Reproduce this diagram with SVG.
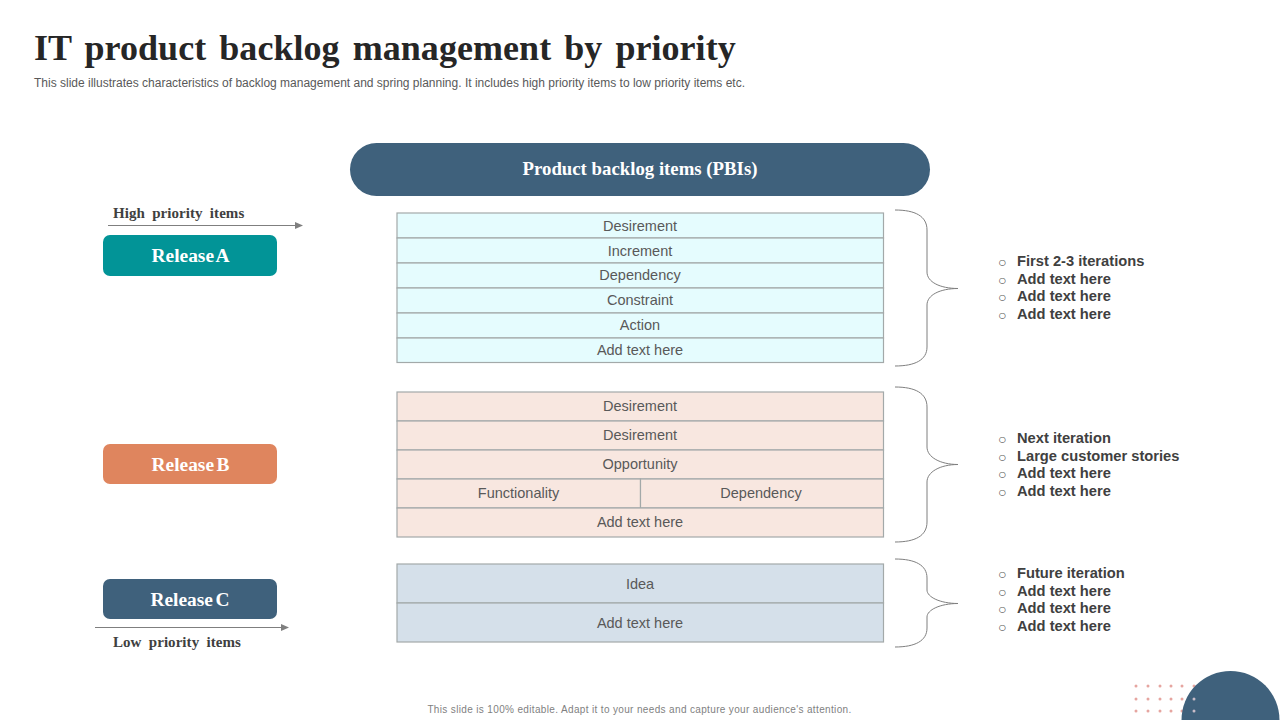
<svg xmlns="http://www.w3.org/2000/svg" width="1280" height="720" viewBox="0 0 1280 720">
<style>
text{font-family:"Liberation Sans",Arial,sans-serif}
.serif{font-family:"Liberation Serif","Times New Roman",serif;font-weight:700}
.title{font-size:36px;fill:#262626;word-spacing:4px;letter-spacing:.05px}
.sub{font-size:12px;fill:#595959}
.pri{font-size:15px;fill:#404040;word-spacing:3.500px;letter-spacing:.05px}
.rel{font-size:19.400px;fill:#fff;text-anchor:middle;word-spacing:-2.300px}
.cell{font-size:14.500px;fill:#595959;text-anchor:middle}
.bul{font-size:14.700px;font-weight:700;fill:#404040}
.dot{font-size:14px;fill:#595959}
.r{stroke:#a3a9a9;stroke-width:1.200}
.a{fill:#e5fcfe}.b{fill:#f8e7e0}.c{fill:#d5e0ea}
.br{fill:none;stroke:#7f7f7f;stroke-width:1}
.ar{stroke:#7f7f7f;stroke-width:1.200;fill:none;marker-end:url(#h)}
.d{fill:#e6a5a0}
</style>
<defs>
<marker id="h" markerWidth="8" markerHeight="8" refX="7" refY="3.500" orient="auto" markerUnits="userSpaceOnUse"><path d="M0 0L8 3.500L0 7z" fill="#7f7f7f"/></marker>
</defs>
<rect width="1280" height="720" fill="#fff"/>
<text class="serif title" x="34" y="60">IT product backlog management by priority</text>
<text class="sub" x="34" y="87">This slide illustrates characteristics of backlog management and spring planning. It includes high priority items to low priority items etc.</text>

<g id="header"><rect x="350" y="143" width="580" height="53" rx="26.500" fill="#3f617c"/>
<text class="serif" x="640" y="175" font-size="18.800" fill="#fff" text-anchor="middle">Product backlog items (PBIs)</text></g>

<g id="release-a"><rect x="103" y="235" width="174" height="41" rx="7" fill="#029497"/><text class="serif rel" x="190.500" y="262">Release A</text></g>
<g id="release-b"><rect x="103" y="444" width="174" height="40" rx="7" fill="#df855e"/><text class="serif rel" x="190.500" y="471">Release B</text></g>
<g id="release-c"><rect x="103" y="579" width="174" height="40" rx="7" fill="#3f617c"/><text class="serif rel" x="190" y="606">Release C</text></g>

<g id="priority-labels">
<text class="serif pri" x="113" y="218">High priority items</text>
<text class="serif pri" x="113" y="647">Low priority items</text>
</g>

<g id="connectors">
<path class="ar" d="M108 225.500H302"/>
<path class="ar" d="M95 627.500H288"/>
<path class="br" d="M895 210C915 210 927 216 927 230V272C927 282 940 288.500 958 288.500C940 288.500 927 295 927 305V347C927 360 915 366 895 366"/>
<path class="br" d="M895 387C915 387 927 393 927 407V447C927 457 940 464.500 958 464.500C940 464.500 927 472 927 482V522C927 536 915 542 895 542"/>
<path class="br" d="M895 559C915 559 927 565 927 578V590C927 597 940 603.500 958 603.500C940 603.500 927 610 927 617V628C927 641 915 647 895 647"/>
</g>

<g id="table-a">
<rect class="a r" x="397" y="213" width="486.500" height="25"/><rect class="a r" x="397" y="238" width="486.500" height="25"/><rect class="a r" x="397" y="263" width="486.500" height="25"/><rect class="a r" x="397" y="288" width="486.500" height="25"/><rect class="a r" x="397" y="313" width="486.500" height="25"/><rect class="a r" x="397" y="338" width="486.500" height="24.500"/>
<text class="cell" x="640" y="231">Desirement</text><text class="cell" x="640" y="256">Increment</text><text class="cell" x="640" y="280">Dependency</text><text class="cell" x="640" y="305">Constraint</text><text class="cell" x="640" y="330">Action</text><text class="cell" x="640" y="355">Add text here</text>
</g>

<g id="table-b">
<rect class="b r" x="397" y="392" width="486.500" height="29"/><rect class="b r" x="397" y="421" width="486.500" height="29"/><rect class="b r" x="397" y="450" width="486.500" height="29"/><rect class="b r" x="397" y="479" width="243.500" height="29"/><rect class="b r" x="640.500" y="479" width="243" height="29"/><rect class="b r" x="397" y="508" width="486.500" height="29"/>
<text class="cell" x="640" y="411">Desirement</text><text class="cell" x="640" y="440">Desirement</text><text class="cell" x="640" y="469">Opportunity</text><text class="cell" x="518.500" y="498">Functionality</text><text class="cell" x="761" y="498">Dependency</text><text class="cell" x="640" y="527">Add text here</text>
</g>

<g id="table-c">
<rect class="c r" x="397" y="564" width="486.500" height="39"/><rect class="c r" x="397" y="603" width="486.500" height="39"/>
<text class="cell" x="640" y="589">Idea</text><text class="cell" x="640" y="628">Add text here</text>
</g>

<g id="list-a">
<text class="dot" x="998" y="267">○</text><text class="dot" x="998" y="285">○</text><text class="dot" x="998" y="302">○</text><text class="dot" x="998" y="320">○</text>
<text class="bul" x="1017" y="266">First 2-3 iterations</text><text class="bul" x="1017" y="284">Add text here</text><text class="bul" x="1017" y="301">Add text here</text><text class="bul" x="1017" y="319">Add text here</text>
</g>
<g id="list-b">
<text class="dot" x="998" y="444">○</text><text class="dot" x="998" y="462">○</text><text class="dot" x="998" y="479">○</text><text class="dot" x="998" y="497">○</text>
<text class="bul" x="1017" y="443">Next iteration</text><text class="bul" x="1017" y="461">Large customer stories</text><text class="bul" x="1017" y="478">Add text here</text><text class="bul" x="1017" y="496">Add text here</text>
</g>
<g id="list-c">
<text class="dot" x="998" y="579">○</text><text class="dot" x="998" y="597">○</text><text class="dot" x="998" y="614">○</text><text class="dot" x="998" y="632">○</text>
<text class="bul" x="1017" y="578">Future iteration</text><text class="bul" x="1017" y="596">Add text here</text><text class="bul" x="1017" y="613">Add text here</text><text class="bul" x="1017" y="631">Add text here</text>
</g>

<g id="decor">
<circle class="d" cx="1136" cy="686" r="1.500"/><circle class="d" cx="1148" cy="686" r="1.500"/><circle class="d" cx="1160" cy="686" r="1.500"/><circle class="d" cx="1171" cy="686" r="1.500"/><circle class="d" cx="1182" cy="686" r="1.500"/><circle class="d" cx="1194" cy="686" r="1.500"/>
<circle class="d" cx="1136" cy="699" r="1.500"/><circle class="d" cx="1148" cy="699" r="1.500"/><circle class="d" cx="1160" cy="699" r="1.500"/><circle class="d" cx="1171" cy="699" r="1.500"/><circle class="d" cx="1182" cy="699" r="1.500"/>
<circle class="d" cx="1136" cy="711" r="1.500"/><circle class="d" cx="1148" cy="711" r="1.500"/><circle class="d" cx="1160" cy="711" r="1.500"/><circle class="d" cx="1171" cy="711" r="1.500"/><circle class="d" cx="1182" cy="711" r="1.500"/>
<circle cx="1230.500" cy="720" r="49" fill="#3f617c"/>
<circle cx="1194" cy="699" r="1.500" fill="#c9bcc8"/><circle cx="1194" cy="711" r="1.500" fill="#c9bcc8"/>
</g>
<text x="639.500" y="713" font-size="10" letter-spacing=".35" fill="#7f7f7f" text-anchor="middle">This slide is 100% editable. Adapt it to your needs and capture your audience's attention.</text>
</svg>
